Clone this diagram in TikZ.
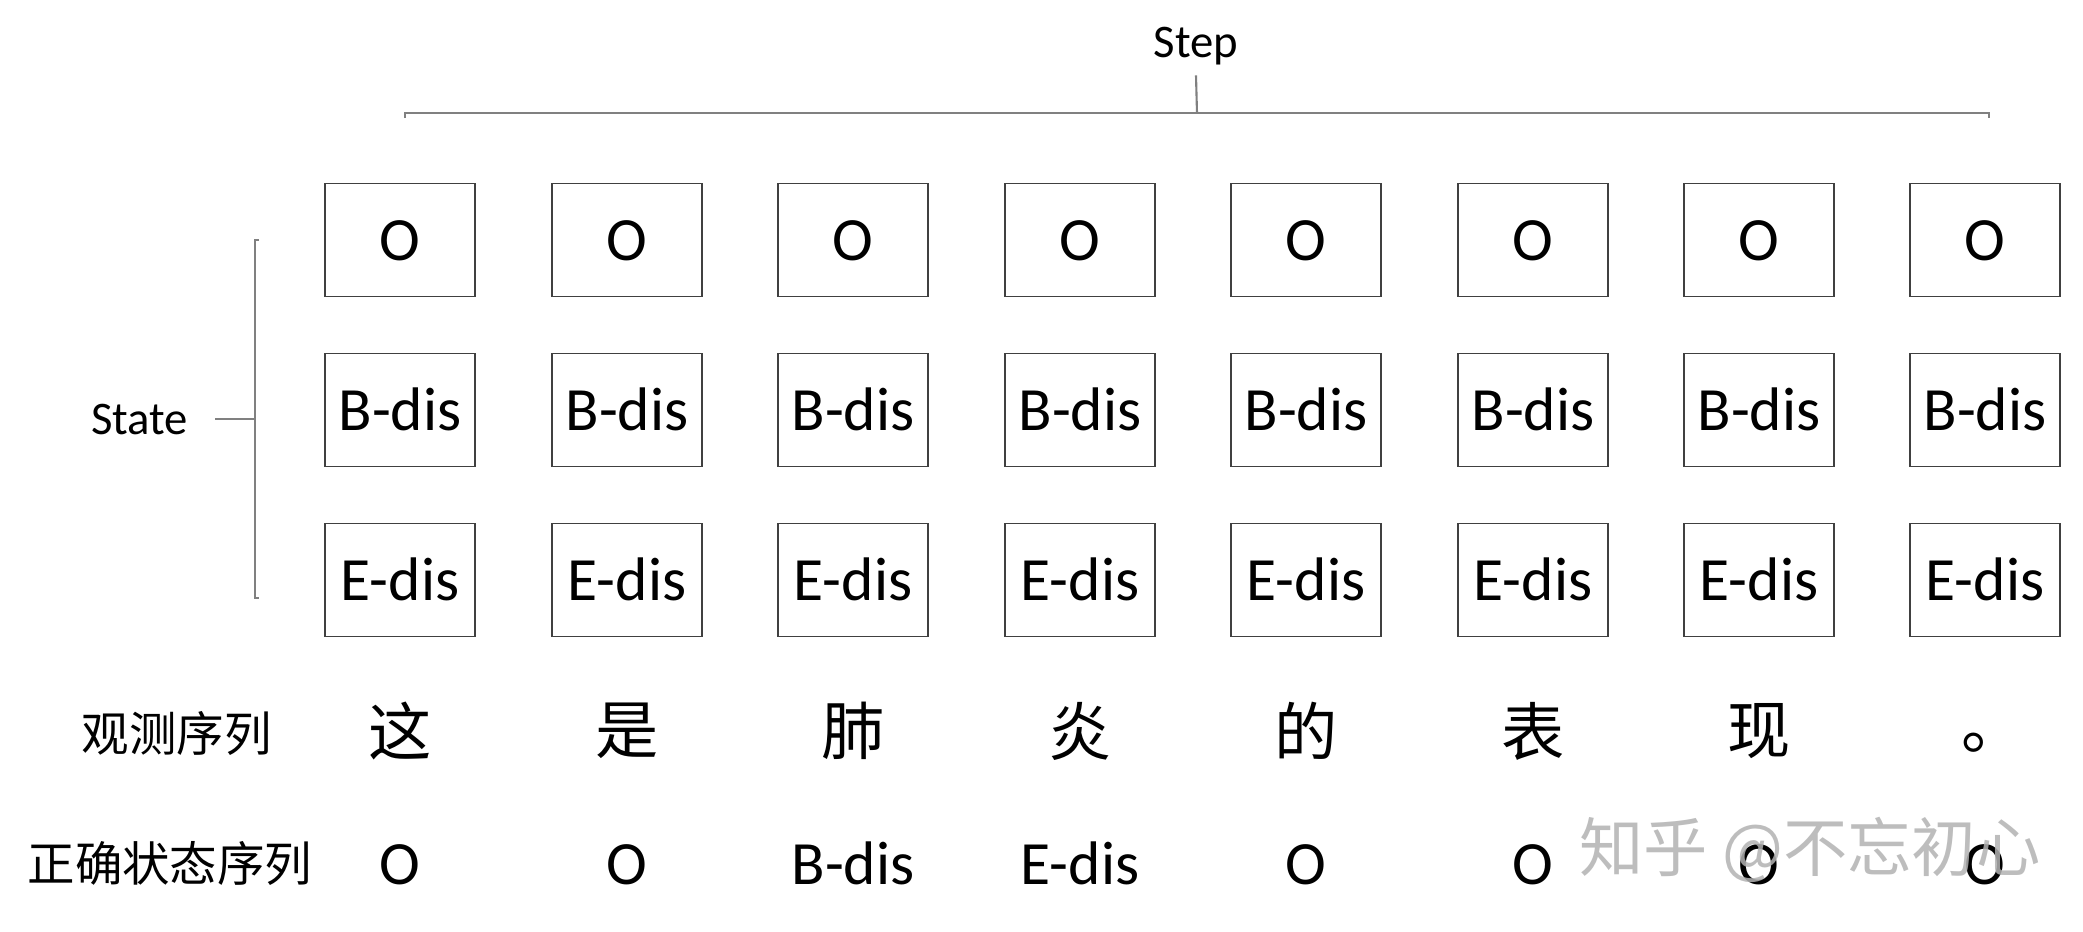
\documentclass[tikz,border=0pt]{standalone}
\usepackage{fontspec}
\setmainfont{Carlito}
\newfontfamily\zhfont{Noto Sans CJK SC}

\begin{document}
\begin{tikzpicture}[
  statebox/.style={draw=black!75, line width=0.5pt, minimum width=1.5cm, minimum height=1.13cm, inner sep=0pt, font=\fontsize{17.5}{20}\selectfont, text height=1.14em, text depth=0pt},
  tag/.style={font=\fontsize{17.5}{20}\selectfont, text height=1.14em, text depth=0pt},
  hanzi/.style={font=\zhfont\fontsize{18}{20}\selectfont},
  side/.style={font=\zhfont\fontsize{13.5}{16}\selectfont},
  brace/.style={draw=black!50, line width=0.6pt}
]
  \useasboundingbox (0,0) rectangle (20.83,-9.32);
  % step bracket
  \node (step) at (11.96,-0.46) [font=\fontsize{13.3}{16}\selectfont] {Step};
  \coordinate (stepL) at (4.05,-1.18);
  \coordinate (stepR) at (19.89,-1.18);
  \coordinate (stepM) at (11.97,-1.13);
  \draw[brace] (stepL) -- ++(0,0.05) -- ([yshift=0.05cm]stepR) -- (stepR);
  \draw[brace] ([yshift=0.02cm]step.south) -- (stepM);
  % state bracket
  \node (state) at (1.395,-4.19) [font=\fontsize{13.3}{16}\selectfont] {State};
  \coordinate (stateT) at (2.59,-2.40);
  \coordinate (stateB) at (2.59,-5.98);
  \coordinate (stateM) at (2.55,-4.19);
  \draw[brace] (stateT) -- ++(-0.04,0) -- ([xshift=-0.04cm]stateB) -- (stateB);
  \draw[brace] ([xshift=0.15cm]state.east) -- (stateM);
  %
  \node[statebox] (o1) at (4.00,-2.40) {O};
  \node[statebox] (o2) at (6.27,-2.40) {O};
  \node[statebox] (o3) at (8.53,-2.40) {O};
  \node[statebox] (o4) at (10.80,-2.40) {O};
  \node[statebox] (o5) at (13.06,-2.40) {O};
  \node[statebox] (o6) at (15.33,-2.40) {O};
  \node[statebox] (o7) at (17.59,-2.40) {O};
  \node[statebox] (o8) at (19.85,-2.40) {O};
  %
  \node[statebox] (b1) at (4.00,-4.10) {B-dis};
  \node[statebox] (b2) at (6.27,-4.10) {B-dis};
  \node[statebox] (b3) at (8.53,-4.10) {B-dis};
  \node[statebox] (b4) at (10.80,-4.10) {B-dis};
  \node[statebox] (b5) at (13.06,-4.10) {B-dis};
  \node[statebox] (b6) at (15.33,-4.10) {B-dis};
  \node[statebox] (b7) at (17.59,-4.10) {B-dis};
  \node[statebox] (b8) at (19.85,-4.10) {B-dis};
  %
  \node[statebox] (e1) at (4.00,-5.80) {E-dis};
  \node[statebox] (e2) at (6.27,-5.80) {E-dis};
  \node[statebox] (e3) at (8.53,-5.80) {E-dis};
  \node[statebox] (e4) at (10.80,-5.80) {E-dis};
  \node[statebox] (e5) at (13.06,-5.80) {E-dis};
  \node[statebox] (e6) at (15.33,-5.80) {E-dis};
  \node[statebox] (e7) at (17.59,-5.80) {E-dis};
  \node[statebox] (e8) at (19.85,-5.80) {E-dis};
  % observed sequence
  \node[side] (obs) at (1.767,-7.33) {观测序列};
  \node[hanzi] (w1) at (4.00,-7.31) {这};
  \node[hanzi] (w2) at (6.27,-7.31) {是};
  \node[hanzi] (w3) at (8.53,-7.31) {肺};
  \node[hanzi] (w4) at (10.80,-7.31) {炎};
  \node[hanzi] (w5) at (13.06,-7.31) {的};
  \node[hanzi] (w6) at (15.33,-7.31) {表};
  \node[hanzi] (w7) at (17.59,-7.31) {现};
  \node[hanzi] (w8) at (19.93,-7.43) {。};
  % correct state sequence
  \node[side] (gold) at (1.70,-8.635) {正确状态序列};
  \node[tag] (t1) at (4.00,-8.64) {O};
  \node[tag] (t2) at (6.27,-8.64) {O};
  \node[tag] (t3) at (8.53,-8.64) {B-dis};
  \node[tag] (t4) at (10.80,-8.64) {E-dis};
  \node[tag] (t5) at (13.06,-8.64) {O};
  \node[tag] (t6) at (15.33,-8.64) {O};
  \node[tag] (t7) at (17.59,-8.64) {O};
  \node[tag] (t8) at (19.85,-8.64) {O};
  %
  \node (mark) at (18.10,-8.50) [text=black!30, opacity=0.85, font=\zhfont\fontsize{18.3}{20}\selectfont] {知乎 @不忘初心};
\end{tikzpicture}
\end{document}
